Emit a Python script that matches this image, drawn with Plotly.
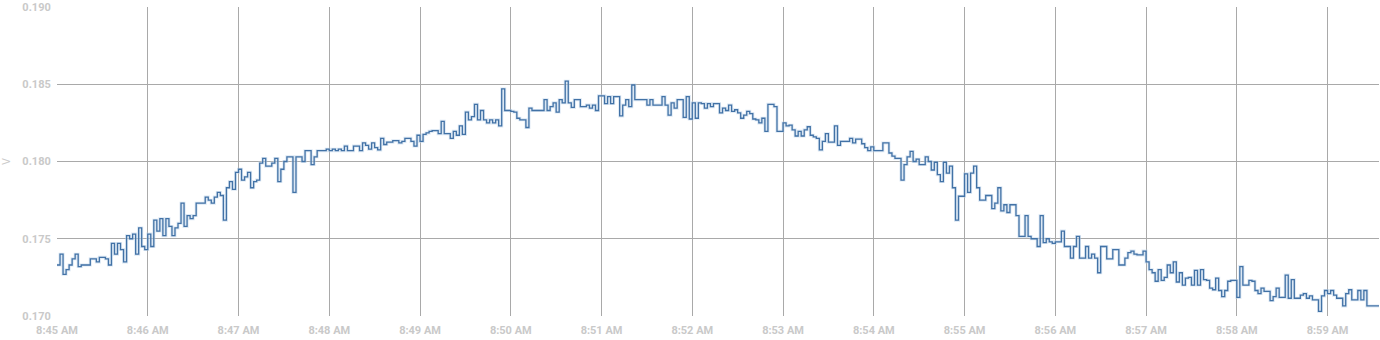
import plotly.graph_objects as go
import pandas as pd

# Voltage samples (V), one every 2 s starting 8:45:00, grouped by minute
v_0845 = [0.1733, 0.1740, 0.1727, 0.1730, 0.1733, 0.1737, 0.1740, 0.1732, 0.1733, 0.1733,
          0.1733, 0.1737, 0.1737, 0.1735, 0.1738, 0.1738, 0.1737, 0.1733, 0.1747, 0.1740,
          0.1747, 0.1743, 0.1735, 0.1752, 0.1750, 0.1753, 0.1740, 0.1757, 0.1745, 0.1743]
v_0846 = [0.1753, 0.1745, 0.1762, 0.1755, 0.1763, 0.1752, 0.1763, 0.1758, 0.1752, 0.1757,
          0.1760, 0.1773, 0.1758, 0.1765, 0.1763, 0.1765, 0.1773, 0.1773, 0.1773, 0.1777,
          0.1775, 0.1773, 0.1777, 0.1780, 0.1778, 0.1762, 0.1783, 0.1787, 0.1782, 0.1793]
v_0847 = [0.1795, 0.1788, 0.1790, 0.1793, 0.1783, 0.1787, 0.1788, 0.1799, 0.1802, 0.1797,
          0.1797, 0.1799, 0.1802, 0.1787, 0.1795, 0.1800, 0.1803, 0.1803, 0.1780, 0.1803,
          0.1803, 0.1800, 0.1807, 0.1807, 0.1798, 0.1803, 0.1807, 0.1807, 0.1807, 0.1808]
v_0848 = [0.1807, 0.1808, 0.1807, 0.1808, 0.1807, 0.1810, 0.1807, 0.1807, 0.1810, 0.1810,
          0.1807, 0.1812, 0.18105, 0.1808, 0.1812, 0.1809, 0.18075, 0.1815, 0.1811, 0.18125,
          0.18125, 0.18135, 0.18135, 0.1812, 0.1813, 0.1815, 0.1815, 0.1813, 0.1810, 0.1817]
v_0849 = [0.1813, 0.18175, 0.18185, 0.18195, 0.1820, 0.1820, 0.1818, 0.1826, 0.1818, 0.1818,
          0.1815, 0.18195, 0.1817, 0.1823, 0.18175, 0.1832, 0.1827, 0.1829, 0.1837, 0.1827,
          0.1833, 0.1827, 0.1825, 0.1827, 0.1825, 0.1827, 0.1823, 0.1847, 0.1833, 0.1833]
v_0850 = [0.18325, 0.1832, 0.1828, 0.1827, 0.1827, 0.1822, 0.18345, 0.1833, 0.1833, 0.1833,
          0.1833, 0.1840, 0.1833, 0.18355, 0.1838, 0.1832, 0.1840, 0.1838, 0.1852, 0.1838,
          0.1835, 0.1840, 0.1840, 0.18355, 0.18355, 0.18365, 0.18345, 0.18365, 0.1833, 0.18425]
v_0851 = [0.18425, 0.18375, 0.1842, 0.18375, 0.1842, 0.1842, 0.18295, 0.18365, 0.1840, 0.18355,
          0.18495, 0.1840, 0.1840, 0.1840, 0.1840, 0.18365, 0.1840, 0.18365, 0.18365, 0.18365,
          0.1842, 0.18365, 0.1830, 0.1838, 0.18345, 0.1840, 0.1840, 0.18285, 0.1842, 0.18275]
v_0852 = [0.1838, 0.1828, 0.1838, 0.18375, 0.18345, 0.18375, 0.18355, 0.18375, 0.18375, 0.18315,
          0.18345, 0.1833, 0.18365, 0.18325, 0.18335, 0.18315, 0.1828, 0.1830, 0.18325, 0.1831,
          0.18275, 0.1827, 0.1825, 0.1828, 0.18195, 0.1837, 0.1837, 0.18355, 0.18195, 0.18195]
v_0853 = [0.1825, 0.1823, 0.18235, 0.18205, 0.18165, 0.18195, 0.18165, 0.18205, 0.18225, 0.1817,
          0.1816, 0.1815, 0.18075, 0.1813, 0.1818, 0.18125, 0.18125, 0.1823, 0.18105, 0.1813,
          0.1813, 0.1813, 0.1815, 0.1812, 0.18145, 0.18145, 0.18115, 0.1809, 0.1807, 0.18095]
v_0854 = [0.1807, 0.1807, 0.1807, 0.1812, 0.1812, 0.18055, 0.18035, 0.1802, 0.1802, 0.1788,
          0.1798, 0.1803, 0.18065, 0.1800, 0.18015, 0.1798, 0.1798, 0.1803, 0.1800, 0.17945,
          0.17995, 0.17915, 0.1787, 0.17995, 0.17925, 0.1797, 0.1783, 0.1762, 0.17775, 0.17775]
v_0855 = [0.1792, 0.1780, 0.17925, 0.1797, 0.1783, 0.1775, 0.1775, 0.1778, 0.1778, 0.17695,
          0.1773, 0.1783, 0.1768, 0.1772, 0.1767, 0.1772, 0.1772, 0.1765, 0.17515, 0.17515,
          0.1765, 0.17515, 0.1750, 0.1750, 0.1745, 0.1765, 0.17475, 0.1750, 0.1748, 0.1747]
v_0856 = [0.1748, 0.1748, 0.1755, 0.1745, 0.1745, 0.17375, 0.1745, 0.17515, 0.17375, 0.17375,
          0.1745, 0.17375, 0.1740, 0.17375, 0.1728, 0.1745, 0.1745, 0.1737, 0.1737, 0.1743,
          0.1743, 0.1733, 0.1733, 0.17375, 0.1741, 0.1742, 0.1740, 0.17395, 0.17395, 0.1742]
v_0857 = [0.1735, 0.1730, 0.1728, 0.17225, 0.1730, 0.1723, 0.1725, 0.1733, 0.1728, 0.1735,
          0.1722, 0.1728, 0.1720, 0.17245, 0.1725, 0.1720, 0.17295, 0.1720, 0.1730, 0.17235,
          0.1723, 0.1718, 0.1717, 0.17245, 0.17165, 0.17125, 0.17165, 0.17225, 0.1723, 0.1723]
v_0858 = [0.1712, 0.1732, 0.1720, 0.1720, 0.1723, 0.17225, 0.17165, 0.17145, 0.1718, 0.1716,
          0.1716, 0.1710, 0.17125, 0.1718, 0.1712, 0.1712, 0.17265, 0.17115, 0.17235, 0.17115,
          0.17115, 0.17135, 0.17145, 0.17115, 0.1713, 0.17105, 0.17105, 0.1703, 0.1713, 0.17165]
v_0859 = [0.17145, 0.17165, 0.17135, 0.17115, 0.17115, 0.17065, 0.17145, 0.1717, 0.17105, 0.17105,
          0.17165, 0.17105, 0.17165, 0.17065, 0.17065, 0.17065, 0.17065, 0.17065]

values = (v_0845 + v_0846 + v_0847 + v_0848 + v_0849 + v_0850 + v_0851 + v_0852 +
          v_0853 + v_0854 + v_0855 + v_0856 + v_0857 + v_0858 + v_0859)
start_time = "2024-01-01 08:45:00"
sample_period = "2s"
times = pd.date_range(start=start_time, periods=len(values), freq=sample_period)

y_range = [0.170, 0.190]
y_step = 0.005

fig = go.Figure()
fig.add_trace(go.Scatter(x=times, y=values, mode="lines",
                         line=dict(shape="hv", color="rgba(190,212,234,0.55)", width=3),
                         hoverinfo="skip", showlegend=False))
fig.add_trace(go.Scatter(x=times, y=values, mode="lines",
                         line=dict(shape="hv", color="#4272a6", width=1.3),
                         showlegend=False))

tick_font = dict(family="Roboto", size=11, color="#c9c9c9", weight="bold")
fig.update_layout(
    width=1380, height=340,
    margin=dict(l=57, r=1, t=7, b=24),
    paper_bgcolor="white", plot_bgcolor="white",
    xaxis=dict(type="date", range=[times[0], times[-1]], dtick=60000, tick0=start_time,
               tickformat="%-I:%M %p", showgrid=True, gridcolor="#a9a9a9", gridwidth=1,
               zeroline=False, showline=False, ticks="outside", ticklen=4,
               tickcolor="rgba(0,0,0,0)", tickfont=tick_font),
    yaxis=dict(range=y_range, dtick=y_step, tick0=0.170, tickformat=".3f", showgrid=True,
               gridcolor="#a9a9a9", gridwidth=1, zeroline=False, showline=False,
               ticks="outside", ticklen=3, tickcolor="rgba(0,0,0,0)",
               tickfont=tick_font,
               title=dict(text="V", font=dict(family="Roboto", size=11, color="#c9c9c9"), standoff=12)),
)
fig.write_html("out.html")
